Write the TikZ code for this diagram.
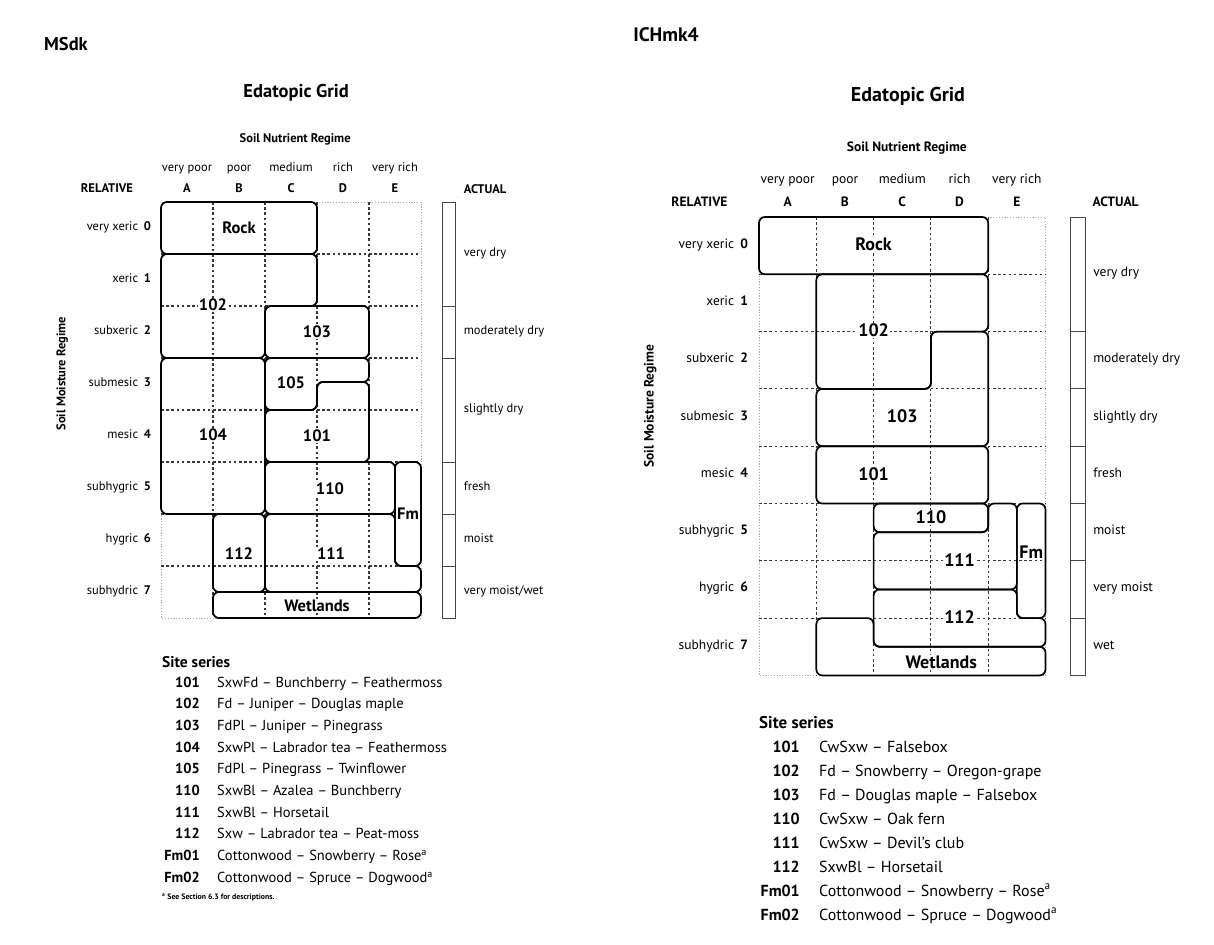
\documentclass[tikz,border=0pt]{standalone}
\usepackage{fontspec}
\setmainfont{PT Sans}
\usepackage{tikz}
\usetikzlibrary{positioning}
\definecolor{GridDark}{RGB}{55, 55, 55}
\definecolor{GridLight}{RGB}{175, 175, 175}
\definecolor{BarLine}{RGB}{70, 70, 70}

\tikzset{
  gridline/.style={draw=GridDark, line width=1.1pt, dash pattern=on 2.6pt off 2.6pt},
  gridedge/.style={draw=GridLight, line width=0.8pt, dash pattern=on 1.2pt off 1.6pt},
  unit/.style={draw=black, line width=1.7pt, rounded corners=6pt},
  unitlbl/.style={font=\bfseries\fontsize{\unitsize}{\unitsize}\selectfont, fill=white, inner sep=1pt},
  axislbl/.style={font=\fontsize{\smallsize}{\smallsize}\selectfont, inner sep=0pt,
    text height=0.72em, text depth=0.22em},
  axisbold/.style={axislbl, font=\bfseries\fontsize{\smallsize}{\smallsize}\selectfont},
  actualbar/.style={draw=BarLine, line width=1pt},
  heading/.style={font=\bfseries\fontsize{#1}{#1}\selectfont, inner sep=0pt},
  seriesdesc/.style={font=\fontsize{#1}{#1}\selectfont, inner sep=0pt, anchor=base west},
  seriescode/.style={font=\bfseries\fontsize{#1}{#1}\selectfont, inner sep=0pt, anchor=base east}
}

% dotted cells, axis labels of one grid (#1 = prefix of node names)
\newcommand{\edaframe}[1]{%
  \draw[gridedge] (0,0) rectangle (5,8);
  \foreach \ci in {1,...,4} \draw[gridline] (\ci,0) -- (\ci,8);
  \foreach \ri in {1,...,7} \draw[gridline] (0,\ri) -- (5,\ri);
  \node[heading=\titlesize] (#1title) at (2.6,-2.1) {Edatopic Grid};
  \node[heading=\smallsize] (#1snr) at (2.58,-1.21) {Soil Nutrient Regime};
  \foreach \cn/\cl [count=\ci from 0] in {very poor/A, poor/B, medium/C, rich/D, very rich/E}{
    \node[axislbl] (#1cn\ci) at (\ci+0.5,-0.63) {\cn};
    \node[axisbold] (#1cl\ci) at (\ci+0.5,-0.23) {\cl};
  }
  \node[axisbold] (#1rel) at (-1.04,-0.23) {RELATIVE};
  \node[heading=\smallsize, rotate=90] (#1smr) at (-1.9,3.3) {Soil Moisture Regime};
  \foreach \rn [count=\ri from 0] in {very xeric, xeric, subxeric, submesic, mesic, subhygric, hygric, subhydric}
    \node[axislbl, anchor=east] (#1rn\ri) at (-0.19,\ri+0.5) {\rn\hspace{0.45em}\textbf{\ri}};
  \node[axisbold, anchor=west] (#1act) at (5.82,-0.22) {ACTUAL};
}

\begin{document}
\begin{tikzpicture}[x=1pt, y=-1pt]
  \fill[white] (0,0) rectangle (1214,944);
  \useasboundingbox (0,0) rectangle (1214,944);

  \node[heading=18.5] (msdk) at (66,44) {MSdk};
  \node[heading=19.5] (ichmk) at (666,35) {ICHmk4};

  % MSdk grid
  \begin{scope}[xshift=161pt, yshift=-202pt, x=52pt, y=-52pt]
    \def\smallsize{12.5}\def\unitsize{16.5}\def\titlesize{18.5}
    \edaframe{l}
    \node[unitlbl] (lrock) at (1.5,0.5) {Rock};
    \node[unitlbl] (l102) at (1,1.98) {102};
    \node[unitlbl] (l103) at (3,2.5) {103};
    \node[unitlbl] (l104) at (1,4.48) {104};
    \node[unitlbl] (l105) at (2.5,3.48) {105};
    \node[unitlbl] (l101) at (3,4.5) {101};
    \node[unitlbl] (l110) at (3.25,5.52) {110};
    \node[unitlbl] (lfm) at (4.75,6) {Fm};
    \node[unitlbl] (l112) at (1.5,6.77) {112};
    \node[unitlbl] (l111) at (3.27,6.77) {111};
    \node[unitlbl] (lwet) at (3,7.77) {Wetlands};
    \draw[unit] (0,0) rectangle (3,1);
    \draw[unit] (1.5,1) -- (3,1) -- (3,2) -- (2,2) -- (2,3) -- (0,3) -- (0,1) -- cycle;
    \draw[unit] (2,2) rectangle (4,3);
    \draw[unit] (0,3) rectangle (2,6);
    \draw[unit] (3,3) -- (4,3) -- (4,3.46) -- (3,3.46) -- (3,4) -- (2,4) -- (2,3) -- cycle;
    \draw[unit] (3.5,3.46) -- (4,3.46) -- (4,5) -- (2,5) -- (2,4) -- (3,4) -- (3,3.46) -- cycle;
    \draw[unit] (2,5) rectangle (4.5,6);
    \draw[unit] (4.5,5) rectangle (5,7);
    \draw[unit] (1,6) rectangle (2,7.5);
    \draw[unit] (3,6) -- (4.5,6) -- (4.5,7) -- (5,7) -- (5,7.5) -- (2,7.5) -- (2,6) -- cycle;
    \draw[unit] (1,7.5) rectangle (5,8);
    % actual moisture
    \draw[actualbar] (5.42,0) rectangle (5.67,8);
    \foreach \yb in {2,3,5,6,7} \draw[actualbar] (5.42,\yb) -- (5.67,\yb);
    \foreach \an/\ay [count=\si] in {very dry/1, moderately dry/2.5, slightly dry/4, fresh/5.5, moist/6.5, very moist\slash wet/7.5}
      \node[axislbl, anchor=west] (lan\si) at (5.82,\ay) {\an};
  \end{scope}

  % ICHmk4 grid
  \begin{scope}[xshift=759pt, yshift=-217pt, x=57.3pt, y=-57.3pt]
    \def\smallsize{13.5}\def\unitsize{18}\def\titlesize{20}
    \edaframe{r}
    \node[unitlbl] (rrock) at (2,0.47) {Rock};
    \node[unitlbl] (r102) at (2,1.98) {102};
    \node[unitlbl] (r103) at (2.5,3.48) {103};
    \node[unitlbl] (r101) at (2,4.48) {101};
    \node[unitlbl] (r110) at (3,5.24) {110};
    \node[unitlbl] (r111) at (3.5,5.98) {111};
    \node[unitlbl] (rfm) at (4.75,5.85) {Fm};
    \node[unitlbl] (r112) at (3.5,6.98) {112};
    \node[unitlbl] (rwet) at (3.18,7.77) {Wetlands};
    \draw[unit] (0,0) rectangle (4,1);
    \draw[unit] (2,1) -- (4,1) -- (4,2) -- (3,2) -- (3,3) -- (1,3) -- (1,1) -- cycle;
    \draw[unit] (3.5,2) -- (4,2) -- (4,4) -- (1,4) -- (1,3) -- (3,3) -- (3,2) -- cycle;
    \draw[unit] (1,4) rectangle (4,5);
    \draw[unit] (2,5) rectangle (4,5.5);
    \draw[unit] (3,5.5) -- (4,5.5) -- (4,5) -- (4.5,5) -- (4.5,6.5) -- (2,6.5) -- (2,5.5) -- cycle;
    \draw[unit] (4.5,5) rectangle (5,7);
    \draw[unit] (3,6.5) -- (4.5,6.5) -- (4.5,7) -- (5,7) -- (5,7.5) -- (2,7.5) -- (2,6.5) -- cycle;
    \draw[unit] (1.5,7) -- (2,7) -- (2,7.5) -- (5,7.5) -- (5,8) -- (1,8) -- (1,7) -- cycle;
    % actual moisture
    \draw[actualbar] (5.43,0) rectangle (5.69,8);
    \foreach \yb in {2,...,7} \draw[actualbar] (5.43,\yb) -- (5.69,\yb);
    \foreach \an/\ay [count=\si] in {very dry/1, moderately dry/2.5, slightly dry/3.5, fresh/4.5, moist/5.5, very moist/6.5, wet/7.5}
      \node[axislbl, anchor=west] (ran\si) at (5.83,\ay) {\an};
  \end{scope}

  % site series, MSdk
  \node[heading=15.5, anchor=base west] (lsite) at (162,667) {Site series};
  \foreach \sc/\sd [count=\si from 0] in {
      101/SxwFd -- Bunchberry -- Feathermoss,
      102/Fd -- Juniper -- Douglas maple,
      103/FdPl -- Juniper -- Pinegrass,
      104/SxwPl -- Labrador tea -- Feathermoss,
      105/FdPl -- Pinegrass -- Twinflower,
      110/SxwBl -- Azalea -- Bunchberry,
      111/SxwBl -- Horsetail,
      112/Sxw -- Labrador tea -- Peat-moss,
      Fm01/Cottonwood -- Snowberry -- Rose\textsuperscript{a},
      Fm02/Cottonwood -- Spruce -- Dogwood\textsuperscript{a}}{
    \node[seriescode=14.5] (lcode\si) at (200,687+21.7*\si) {\sc};
    \node[seriesdesc=14.5] (ldesc\si) at (217,687+21.7*\si) {\sd};
  }
  \node[heading=7.8, anchor=base west] (lnote) at (162,899) {\textsuperscript{a} See Section 6.3 for descriptions.};

  % site series, ICHmk4
  \node[heading=17, anchor=base west] (rsite) at (759,728) {Site series};
  \foreach \sc/\sd [count=\si from 0] in {
      101/CwSxw -- Falsebox,
      102/Fd -- Snowberry -- Oregon-grape,
      103/Fd -- Douglas maple -- Falsebox,
      110/CwSxw -- Oak fern,
      111/CwSxw -- Devil’s club,
      112/SxwBl -- Horsetail,
      Fm01/Cottonwood -- Snowberry -- Rose\textsuperscript{a},
      Fm02/Cottonwood -- Spruce -- Dogwood\textsuperscript{a}}{
    \node[seriescode=16] (rcode\si) at (800,752+24*\si) {\sc};
    \node[seriesdesc=16] (rdesc\si) at (819,752+24*\si) {\sd};
  }
\end{tikzpicture}
\end{document}
